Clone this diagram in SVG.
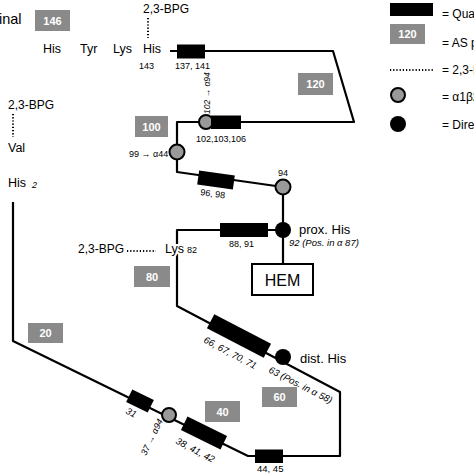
<svg xmlns="http://www.w3.org/2000/svg" width="474" height="474" viewBox="0 0 474 474">
<style>
text{font-family:"Liberation Sans",Arial,sans-serif;fill:#000}
.t{font-size:12.5px}
.s{font-size:9px}
.i{font-style:italic}
.bl{font-size:11px;font-weight:bold;fill:#fff;text-anchor:middle}
.gb{fill:#8a8a8a}
.ln{fill:none;stroke:#000;stroke-width:2.2;stroke-linejoin:round}
.dot{fill:none;stroke:#000;stroke-width:2;stroke-dasharray:1.2 2}
.q{fill:#000}
.gc{fill:#999;stroke:#000;stroke-width:2}
.bc{fill:#000}
.halo{stroke:#fff;stroke-width:4;paint-order:stroke}
.lg{font-size:12px}
</style>
<rect width="474" height="474" fill="#fff"/>
<g id="connectors">
<polyline class="ln" points="170,51 333,51 354,122 177,122 177,172 283,187 283,264"/>
<polyline class="ln" points="283,230 177,230 177,306 340,392 340,456 248,456 13,341 13,202"/>
<line class="dot" x1="148" y1="18" x2="148" y2="38"/>
<line class="dot" x1="13" y1="114" x2="13" y2="137"/>
<line class="dot" x1="127" y1="251" x2="156" y2="251"/>
</g>
<g id="title"><text x="-1" y="24" style="font-size:14.5px">inal</text></g>
<g id="box146"><rect class="gb" x="35" y="10" width="35" height="21"/><text class="bl" x="52.5" y="24.5">146</text></g>
<g id="box120"><rect class="gb" x="298" y="73" width="35" height="22"/><text class="bl" x="315.5" y="88">120</text></g>
<g id="box100"><rect class="gb" x="135" y="116" width="33" height="21"/><text class="bl" x="151.5" y="130.5">100</text></g>
<g id="box80"><rect class="gb" x="134" y="266" width="36" height="21"/><text class="bl" x="152" y="280.5">80</text></g>
<g id="box20"><rect class="gb" x="28" y="323" width="35" height="20"/><text class="bl" x="45.5" y="337">20</text></g>
<g id="box40"><rect class="gb" x="205" y="401" width="35" height="21"/><text class="bl" x="222.5" y="415.5">40</text></g>
<g id="box60"><rect class="gb" x="262" y="387" width="35" height="20"/><text class="bl" x="279.5" y="401">60</text></g>
<g id="cterm">
<text class="t" x="43" y="53">His</text>
<text class="t" x="80" y="53">Tyr</text>
<text class="t" x="113" y="53">Lys</text>
<text class="t" x="143" y="53">His</text>
<text class="s" x="139" y="69">143</text>
<text class="t" x="143" y="13" style="font-size:12px">2,3-BPG</text>
</g>
<g id="nterm">
<text class="t" x="8" y="109" style="font-size:12px">2,3-BPG</text>
<text class="t" x="8" y="152">Val</text>
<text class="t" x="8" y="187">His</text>
<text class="s i" x="32" y="188">2</text>
</g>
<g id="q137"><rect class="q" x="177" y="44.5" width="28" height="14"/><text class="s" x="175" y="69">137, 141</text></g>
<g id="c102"><circle class="gc" cx="206" cy="122" r="7"/><rect class="q" x="211" y="115.5" width="30" height="13.5"/><text class="s" x="196" y="142">102,103,106</text><text class="s i" transform="translate(210,114) rotate(-90)" style="font-size:8.5px">102 → α94</text></g>
<g id="c99"><circle class="gc" cx="177" cy="152" r="7.5"/><text class="s" x="129" y="157">99 → α44</text></g>
<g id="q96"><rect class="q" x="198" y="173" width="36" height="14" transform="rotate(8 216 180)"/><text class="s" transform="translate(200,195) rotate(8)">96, 98</text></g>
<g id="c94"><circle class="gc" cx="283" cy="187" r="7.5"/><text class="s" x="278" y="176">94</text></g>
<g id="prox"><rect class="q" x="220" y="223" width="48" height="14"/><text class="s" x="229" y="247">88, 91</text><circle class="bc" cx="283" cy="230" r="8"/><text class="t" x="299" y="234" style="font-size:13px">prox. His</text><text class="s i" x="289" y="246" style="font-size:9.5px">92 (Pos. in α 87)</text></g>
<g id="hem"><rect x="252" y="264" width="61" height="31" fill="#fff" stroke="#000" stroke-width="2"/><text x="282.5" y="286" text-anchor="middle" style="font-size:16px">HEM</text></g>
<g id="lys82"><text class="t" x="78" y="253" style="font-size:12px">2,3-BPG</text><text class="t halo" x="165" y="253">Lys</text><text class="s" x="187" y="253">82</text></g>
<g id="q66"><rect class="q" x="207" y="328" width="64" height="16" transform="rotate(27.5 239 336)"/><text class="s i" transform="translate(203,342) rotate(28)" style="font-size:9.5px">66, 67, 70, 71</text></g>
<g id="dist"><circle class="bc" cx="283" cy="357" r="8"/><text class="t" x="300" y="363" style="font-size:13px">dist. His</text><text class="s i" transform="translate(268,372) rotate(27)" style="font-size:9.5px">63 (Pos. in α 58)</text></g>
<g id="q44"><rect class="q" x="255" y="449.5" width="28" height="13.5"/><text class="s" x="257" y="472" style="font-size:9.5px">44, 45</text></g>
<g id="q38"><rect class="q" x="182" y="425.5" width="44" height="15" transform="rotate(26 204 433)"/><text class="s i" transform="translate(175,443) rotate(28)" style="font-size:9.5px">38, 41, 42</text></g>
<g id="c37"><circle class="gc" cx="169" cy="415" r="7"/><text class="s i" transform="translate(146,456) rotate(-64)">37 → α94</text></g>
<g id="q31"><rect class="q" x="128" y="394" width="24" height="14" transform="rotate(26 140 401)"/><text class="s i" transform="translate(125,413) rotate(28)" style="font-size:9.5px">31</text></g>
<g id="legend">
<rect class="q" x="390" y="3" width="43" height="13"/><text class="lg" x="442" y="18">= Qua</text>
<rect class="gb" x="390" y="24" width="35" height="20"/><text class="bl" x="407.5" y="38">120</text><text class="lg" x="442" y="47">= AS p</text>
<line class="dot" x1="390" y1="70" x2="433" y2="70"/><text class="lg" x="442" y="74">= 2,3-B</text>
<circle class="gc" cx="398" cy="95" r="7"/><text class="lg" x="442" y="101">= α1β2</text>
<circle class="bc" cx="398" cy="124" r="8"/><text class="lg" x="442" y="129">= Dire</text>
</g>
</svg>
